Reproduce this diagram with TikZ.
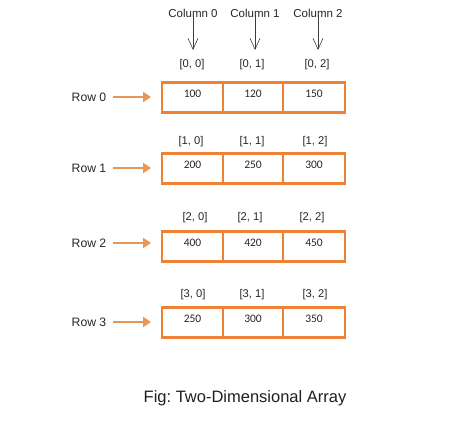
\documentclass[tikz,border=0pt]{standalone}
\usepackage{fontspec}
\setmainfont{Liberation Sans}
\newfontfamily\cellfont{Carlito}
\usetikzlibrary{arrows.meta}
\frenchspacing
\definecolor{orng}{RGB}{237,130,55}
\definecolor{orarrow}{RGB}{232,150,85}
\definecolor{darkln}{RGB}{60,60,60}
\tikzset{
  cellbox/.style={draw=orng, line width=2.3pt, minimum width=61pt, minimum height=30pt, inner sep=0pt, outer sep=0pt},
  valtxt/.style={font=\cellfont\fontsize{11.5}{13}\selectfont, inner sep=0pt, text=black!85},
  idxtxt/.style={font=\fontsize{11.2}{13}\selectfont, inner sep=0pt, text=black!85},
  collbl/.style={font=\fontsize{11.5}{13}\selectfont, inner sep=0pt, text=black!85},
  rowlbl/.style={font=\fontsize{12.2}{14}\selectfont, inner sep=0pt, text=black!85},
  colarrow/.style={draw=darkln, line width=0.6pt, -{Straight Barb[length=11pt,width=10pt,line width=0.6pt]}},
  rowarrow/.style={draw=orarrow, line width=2.8pt, -{Triangle[length=8pt,width=10pt]}},
}
\begin{document}
\begin{tikzpicture}[x=1pt,y=-1pt]
\useasboundingbox (0,0) rectangle (474,424);
% column headers
\foreach \i/\x in {0/193,1/255,2/318}{
  \node[collbl] (col\i) at (\x,13) {Column \i};
  \coordinate (colend\i) at (\x,50);
  \draw[colarrow] (col\i.south) ++(0,-2) -- (colend\i);
}
% rows
\foreach \r/\t/\ly/\iy/\xa/\xb/\xc/\va/\vb/\vc in {
  0/82/97/65/192/252/317/100/120/150,
  1/153/168/142/191/252/315/200/250/300,
  2/231/243/218/195/250/312/400/420/450,
  3/307/322/295/193/252/315/250/300/350}{
  \node[cellbox, minimum width=61pt] (c\r0) at (192.5,\t+15.5) {};
  \node[cellbox, minimum width=60pt] (c\r1) at (253,\t+15.5) {};
  \node[cellbox, minimum width=62pt] (c\r2) at (314,\t+15.5) {};
  \node[valtxt] (v\r0) at (192.5,\t+11.5) {\va};
  \node[valtxt] (v\r1) at (253,\t+11.5) {\vb};
  \node[valtxt] (v\r2) at (314,\t+11.5) {\vc};
  \node[idxtxt] (i\r0) at (\xa,\iy) {[\r, 0]};
  \node[idxtxt] (i\r1) at (\xb,\iy) {[\r, 1]};
  \node[idxtxt] (i\r2) at (\xc,\iy) {[\r, 2]};
  \node[rowlbl] (row\r) at (89,\ly) {Row \r};
  \coordinate (rowtip\r) at (151,\ly);
  \draw[rowarrow] (113,\ly) -- (rowtip\r);
}
\node[font=\fontsize{16.5}{19}\selectfont, inner sep=0pt, text=black!88] (cap) at (245,398) {Fig: Two-Dimensional Array};
\end{tikzpicture}
\end{document}
